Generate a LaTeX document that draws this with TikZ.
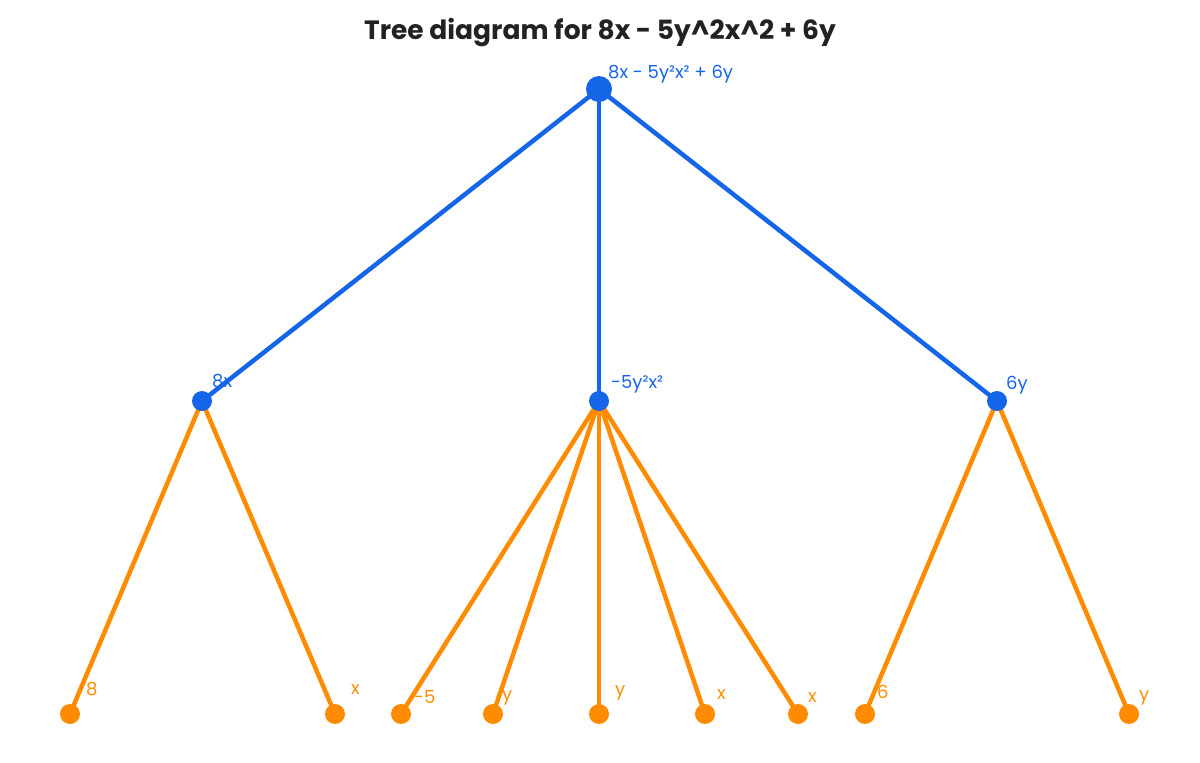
\documentclass[tikz,border=0pt]{standalone}
\usepackage{fontspec}
\setmainfont{Poppins}
\definecolor{tblue}{HTML}{1565E8}
\definecolor{torange}{HTML}{FF8C00}
\definecolor{ttitle}{HTML}{222222}
\begin{document}
\begin{tikzpicture}[x=1pt,y=-1pt,
  bedge/.style={draw=tblue,line width=4.5pt},
  oedge/.style={draw=torange,line width=4.5pt},
  rootdot/.style={circle,fill=tblue,minimum size=26pt,inner sep=0pt},
  middot/.style={circle,fill=tblue,minimum size=20pt,inner sep=0pt},
  leafdot/.style={circle,fill=torange,minimum size=20pt,inner sep=0pt},
  blab/.style={anchor=base west,inner sep=0pt,text=tblue,font=\fontsize{18}{20}\selectfont},
  olab/.style={anchor=base west,inner sep=0pt,text=torange,font=\fontsize{18}{20}\selectfont}]
\useasboundingbox (0,0) rectangle (1200,763);
\node[anchor=base,inner sep=0pt,text=ttitle,font=\fontsize{26.5}{30}\selectfont\bfseries] (title) at (600,39) {Tree diagram for 8x - 5y\textasciicircum 2x\textasciicircum 2 + 6y};
% labels (drawn first, edges lie over them)
\node[blab] (lroot) at (608,78) {8x - 5y²x² + 6y};
\node[blab] (la) at (212,387) {8x};
\node[blab] (lb) at (611,388) {-5y²x²};
\node[blab] (lc) at (1006,389) {6y};
\node[olab] (l1) at (86,695) {8};
\node[olab] (l2) at (351,694) {x};
\node[olab] (l3) at (414,703) {-5};
\node[olab] (l4) at (502,700) {y};
\node[olab] (l5) at (615,695) {y};
\node[olab] (l6) at (717,699) {x};
\node[olab] (l7) at (808,702) {x};
\node[olab] (l8) at (877,698) {6};
\node[olab] (l9) at (1139,700) {y};
% coordinates
\coordinate (r) at (599,89);
\coordinate (a) at (202,401);
\coordinate (b) at (599,401);
\coordinate (c) at (997,401);
\coordinate (e1) at (70,714);
\coordinate (e2) at (335,714);
\coordinate (e3) at (401,714);
\coordinate (e4) at (493,714);
\coordinate (e5) at (599,714);
\coordinate (e6) at (705,714);
\coordinate (e7) at (798,714);
\coordinate (e8) at (865,714);
\coordinate (e9) at (1129,714);
% edges
\foreach \m in {a,b,c} \draw[bedge] (r) -- (\m);
\foreach \l in {e1,e2} \draw[oedge] (a) -- (\l);
\foreach \l in {e3,e4,e5,e6,e7} \draw[oedge] (b) -- (\l);
\foreach \l in {e8,e9} \draw[oedge] (c) -- (\l);
% dots
\node[rootdot] (nr) at (r) {};
\foreach \m in {a,b,c} \node[middot] (n\m) at (\m) {};
\foreach \l in {e1,e2,e3,e4,e5,e6,e7,e8,e9} \node[leafdot] (n\l) at (\l) {};
\end{tikzpicture}
\end{document}
